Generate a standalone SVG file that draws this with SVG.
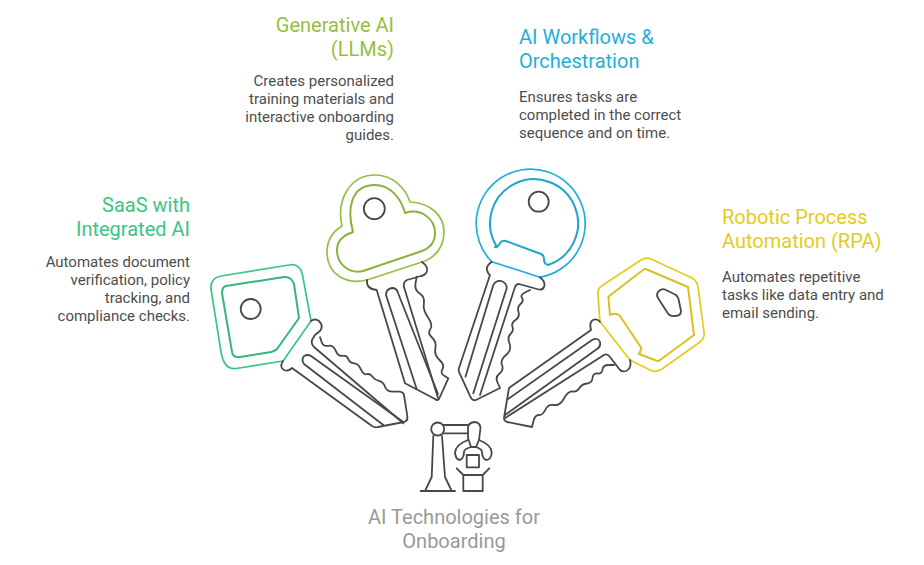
<svg xmlns="http://www.w3.org/2000/svg" width="924" height="565" viewBox="0 0 924 565">
<style>
text{font-family:Roboto,"Liberation Sans",sans-serif}
.t{font-size:20px}.b{font-size:15px;fill:#4d4d4d}.e{text-anchor:end}.m{text-anchor:middle}
.d,.o,.i{fill:none;stroke-linecap:round;stroke-linejoin:round}
.d{stroke:#484848;stroke-width:1.8}
.o{stroke-width:1.7}.i{stroke-width:2}
.gr{stroke:#3cc583}.gr2{stroke:#35b67a}.ol{stroke:#94bf42}.ol2{stroke:#8ab13c}.bl{stroke:#1fafd8}.bl2{stroke:#1ea5cc}.ye{stroke:#e2cc1c}.ye2{stroke:#d7c120}
</style>
<rect width="924" height="565" fill="#fff"/>
<g id="connectors"></g>
<g id="node-saas">
<path class="o gr" d="M311 321L302.500 275Q300 263 289 265L221 276Q210 278 211 289L221 352Q224 370 236 368.500L283 361L311 321"/>
<path class="i gr2" d="M226 286L284 277Q291 276 294 284L299 318L277 349Q275 351 271 352L240 357Q233 358 232 352L222 293Q222 287 226 286Z"/>
<circle class="d" cx="250.700" cy="309" r="10"/>
<path class="d" d="M283 361Q279 367 284 370Q288 372 292 368L372 426Q375 428 378 427L404 422Q408 421 407.300 416L404 395Q403 392 400 391.700L393 391.700Q386.700 391.700 385 386.700Q383.300 381.700 379 380.800Q375 380 372.500 376.700Q370 373.300 366.700 374.200Q363.300 375 360.800 369.200Q358.300 363.300 354.200 363.300Q350 363.300 348.300 359.200Q346.700 355 342.500 355.800Q338.300 356.700 335.800 350.800Q333.300 345 328.300 345.800Q323.300 346.700 321.600 342L320 337.300"/>
<path class="d" d="M311 321Q315 318 319 321Q324 326 320 331L315 335L312 340Q311 344 314 347L403.300 423.300"/>
<path class="d" d="M383.300 425L304 364Q301 360 304 356Q308 354 311 356L403 421.700"/>
<text class="t e" x="190" y="212" style="fill:#3cc583">SaaS with</text>
<text class="t e" x="190" y="236" style="fill:#3cc583">Integrated AI</text>
<text class="b e" x="190" y="267">Automates document</text>
<text class="b e" x="190" y="285">verification, policy</text>
<text class="b e" x="190" y="303">tracking, and</text>
<text class="b e" x="190" y="321">compliance checks.</text>
</g>
<g id="node-genai">
<path class="o ol" d="M367 280C347 285 327 275 327 252C327 240 334 231 342 226C336 200 350 175 375 175C392 175 405 187 410 202C430 203 444 215 444 232C444 247 435 258 422 262L367 280"/>
<path class="i ol2" d="M353 232C347 210 350 185 375 185C390 185 401 198 405 213C420 208 435 218 435 233C435 242 430 248 422 251L363 271C350 274 337 265 337 250C337 241 344 235 353 232Z"/>
<circle class="d" cx="374.300" cy="208.700" r="10.500"/>
<path class="d" d="M367 280Q366 289 376.700 290L405 383.300L435 399Q437 401 439 399L448.300 378.300L444.200 375.800Q440 373.300 442.500 369.200Q445 365 439.500 360Q434 355 435.400 348.400Q436.700 341.700 432 337.500Q427.300 333.300 430.300 329.200Q433.300 325 428 317.500Q422.700 310 423.900 303.400Q425 296.700 419.700 293.400Q414.300 290 415.500 283.400L416.700 276.700"/>
<path class="d" d="M422 262Q428 266 427 271Q426 275 421 276L407 280Q403 282 404 287L438 398"/>
<path class="d" d="M416.700 389L386 295Q386 289 392 288Q397 288 398 293L438 394"/>
<text class="t e" x="394" y="32" style="fill:#94bf42">Generative AI</text>
<text class="t e" x="394" y="56" style="fill:#94bf42">(LLMs)</text>
<text class="b e" x="394" y="86">Creates personalized</text>
<text class="b e" x="394" y="104">training materials and</text>
<text class="b e" x="394" y="122">interactive onboarding</text>
<text class="b e" x="394" y="140">guides.</text>
</g>
<g id="node-workflows">
<path class="o bl" d="M491.700 261.700A54.500 54.500 0 1 1 540 277.300L491.700 261.700"/>
<path class="i bl2" d="M497 247A44 44 0 1 1 548 265Q544 264 544 259Q544 255 541 254L506 241Q502 240 500 243Q498 248 495 247Z"/>
<circle class="d" cx="538.700" cy="201.700" r="10"/>
<path class="d" d="M491.700 261.700Q486 266 487 270Q488 274 490 275L459 368Q458 371 460 374L471 398Q473 401 476 400L500 388L497.500 382.500Q495 377 499.500 373.500Q504 370 502 365Q500 360 506 355Q512 350 509.500 343.500Q507 337 510.500 334Q514 331 512.500 327Q511 323 515.500 320Q520 317 518.500 312Q517 307 520.500 304Q524 301 522 298Q520 295 525 292.500L530 290"/>
<path class="d" d="M540 277.300Q546 282 544 287Q542 291 537 289L519 284Q516 284 515 287L480 395"/>
<path class="d" d="M465.500 376.700L493.300 285Q496 280 501 281Q507 283 506.700 288.300L473.300 393.300"/>
<text class="t" x="519" y="44" style="fill:#1fafd8">AI Workflows &amp;</text>
<text class="t" x="519" y="68" style="fill:#1fafd8">Orchestration</text>
<text class="b" x="519" y="102">Ensures tasks are</text>
<text class="b" x="519" y="120">completed in the correct</text>
<text class="b" x="519" y="138">sequence and on time.</text>
</g>
<g id="node-rpa">
<path class="o ye" d="M600 321.700L598 295Q597 288 603 285L641 260Q646 257 651 259L692 278Q697 281 698 287L704 332Q705 338 700 342L662 369Q656 373 650 370L630 360L600 321.700"/>
<path class="i ye2" d="M610 315L608.300 296.700L643 270Q645 268 648 270L688 287L694 335L660 360Q658 362 655 360L639 354L641 350Q642 348 640 346L620 316Q617 312 610 315"/>
<path class="d" d="M658 292Q661 288 665 289.500L676 295Q678 297 678.500 299L681 311Q681 316 675 316Q670 317 667 312L658 298Q656 295 658 292Z"/>
<path class="d" d="M600 321.700Q597 318 593 320Q589 322 591 330L509 388L504 418Q504 421 507 422L532 427L533.500 421Q535 415 539 415Q543 415 545.500 409.500Q548 404 554 405Q560 406 564 398.500Q568 391 572.500 391.500Q577 392 579.500 388Q582 384 587 383.500Q592 383 592.500 378Q593 373 597.500 373.500Q602 374 602.500 369.500Q603 365 608.500 365L614 365"/>
<path class="d" d="M630 360Q632 368 626 371Q622 372 620 370L610 357Q607 353 604 355L505 418"/>
<path class="d" d="M508 399L592 340Q598 337 600 342Q601 347 597 349L505 415"/>
<text class="t" x="722" y="224" style="fill:#e2cc1c">Robotic Process</text>
<text class="t" x="722" y="248" style="fill:#e2cc1c">Automation (RPA)</text>
<text class="b" x="722" y="282">Automates repetitive</text>
<text class="b" x="722" y="300">tasks like data entry and</text>
<text class="b" x="722" y="318">email sending.</text>
</g>
<g id="node-center">
<circle class="d" cx="437.700" cy="429" r="6.500"/>
<path class="d" d="M443 425H468M443 433.300H468M433.300 436L431.700 477L425 491M442 436L445 477L451.700 491M420.700 491H455"/>
<path class="d" d="M468 428Q468 423 474 422Q480 422 480.500 428L479 440L476 447H471L468 438Z"/>
<path class="d" d="M468 440Q455 445 455 453Q456 460 460 460Q464 458 464 452Q464 449 471 447M479 440Q492 445 491.700 453Q491 460 486 460Q482 458 482 452Q482 449 476 447"/>
<rect class="d" x="466.700" y="455" width="12.300" height="12.300"/>
<path class="d" d="M456.700 468.300L463.300 475H482.700L489.300 468.300M463.300 475V491H482.700V475"/>
<text class="t m" x="454" y="524" style="fill:#999">AI Technologies for</text>
<text class="t m" x="454" y="548" style="fill:#999">Onboarding</text>
</g>
</svg>
